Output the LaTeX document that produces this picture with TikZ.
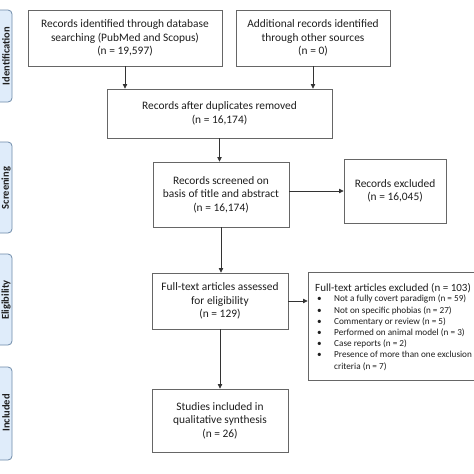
\documentclass[tikz,border=0pt]{standalone}
\usepackage{fontspec}
\setmainfont{Carlito}
\usetikzlibrary{arrows.meta}
\definecolor{boxline}{HTML}{666666}
\definecolor{phasefill}{HTML}{DFECFA}
\definecolor{phaseline}{HTML}{6F8BAA}
\definecolor{txt}{HTML}{1E1E1E}
\definecolor{arrline}{HTML}{333333}
\tikzset{
  stagebox/.style={draw=boxline, line width=0.9pt, fill=white, inner sep=0pt,
    align=center, text=txt, font=\fontsize{11.4}{13.6}\selectfont},
  arr/.style={draw=arrline, line width=0.7pt, -{Triangle[length=4.5pt,width=4.5pt]}},
  phase/.style={draw=phaseline, fill=phasefill, line width=0.8pt, rounded corners=4pt},
  phasetext/.style={rotate=90, text=txt, font=\bfseries\fontsize{10.5}{12}\selectfont, inner sep=0pt},
  listtext/.style={inner sep=0pt, text=txt, align=left, font=\fontsize{9.2}{11.2}\selectfont},
}
\newcommand{\bitem}{\makebox[17pt][l]{\textbullet}}
\begin{document}
\begin{tikzpicture}[x=1pt,y=-1pt]
\useasboundingbox (0,0) rectangle (474,474);
\clip (0,0) rectangle (474,474);
\fill[white] (0,0) rectangle (474,474);

% phase labels
\draw[phase] (-30,10) rectangle (12,102);
\node[phasetext] (pid) at (6,56) {Identification};
\draw[phase] (-30,142) rectangle (12,233);
\node[phasetext] (psc) at (6,188) {Screening};
\draw[phase] (-30,254) rectangle (12,345);
\node[phasetext] (pel) at (6,300) {Eligibility};
\draw[phase] (-30,367) rectangle (12,460);
\node[phasetext] (pin) at (6,413) {Included};

% boxes
\node[stagebox, minimum width=194pt, minimum height=56pt] (b1) at (125,38)
  {Records identified through database\\searching (PubMed and Scopus)\\(n = 19,597)};
\node[stagebox, minimum width=154pt, minimum height=56pt] (b2) at (313,38)
  {Additional records identified\\through other sources\\(n = 0)};
\node[stagebox, minimum width=225pt, minimum height=49pt] (b3) at (219.5,113.5)
  {Records after duplicates removed\\(n = 16,174)};
\node[stagebox, minimum width=136pt, minimum height=65pt] (b4) at (221,194.5)
  {Records screened on\\basis of title and abstract\\(n = 16,174)};
\node[stagebox, minimum width=102pt, minimum height=64pt] (ex1) at (395,191)
  {Records excluded\\(n = 16,045)};
\node[stagebox, minimum width=200pt, minimum height=108pt] (ex2) at (408,326) {};
\node[inner sep=0pt, text=txt, anchor=west, font=\fontsize{11}{13}\selectfont] (ex2h) at (315,288)
  {Full-text articles excluded (n = 103)};
\node[listtext, anchor=north west] (ex2l) at (317,295)
  {\bitem Not a fully covert paradigm (n = 59)\\
   \bitem Not on specific phobias (n = 27)\\
   \bitem Commentary or review (n = 5)\\
   \bitem Performed on animal model (n = 3)\\
   \bitem Case reports (n = 2)\\
   \bitem Presence of more than one exclusion\\
   \hspace*{17pt}criteria (n = 7)};
\node[stagebox, minimum width=136pt, minimum height=56pt] (b5) at (220,301)
  {Full-text articles assessed\\for eligibility\\(n = 129)};
\node[stagebox, minimum width=136pt, minimum height=63pt] (b7) at (220,420.5)
  {Studies included in\\qualitative synthesis\\(n = 26)};

% connectors
\draw[arr] (b1.south) -- (b1.south |- b3.north);
\draw[arr] (b2.south) -- (b2.south |- b3.north);
\draw[arr] (b3.south) -- (b3.south |- b4.north);
\draw[arr] (ex1.west -| b4.east) -- (ex1.west);
\draw[arr] (b4.south) -- (b4.south |- b5.north);
\draw[arr] (b5.east) -- (b5.east -| ex2.west);
\draw[arr] (b5.south) -- (b5.south |- b7.north);
\end{tikzpicture}
\end{document}
